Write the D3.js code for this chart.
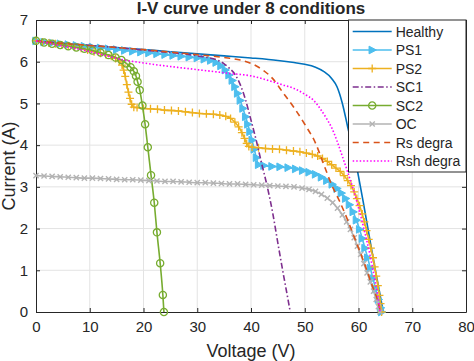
<!DOCTYPE html>
<html><head><meta charset="utf-8">
<script src="https://cdn.jsdelivr.net/npm/d3@7"></script>
<style>
body{margin:0;background:#fff}
svg{display:block}
text{font-family:"Liberation Sans",Arial,Helvetica,sans-serif;fill:#262626}
</style>
</head><body>
<svg id="chart" width="474" height="361"></svg>
<script>
// ---------- DATA (Voltage V, Current A) ----------
const healthy = [[0,6.5],[5,6.44],[10,6.39],[15,6.34],[20,6.29],[25,6.24],[30,6.19],[35,6.14],[40,6.09],[45,6.03],[48,5.98],[50,5.94],[52,5.87],[53.5,5.77],[55,5.6],[56,5.4],[57,5.0],[58,4.43],[58.5,4.15],[59.3,3.7],[60,3.25],[61,2.55],[62,1.82],[63,1.1],[64,0.42],[64.6,0]];
const ps1 = [[0,6.5],[1.5,6.47],[3,6.45],[4.5,6.43],[6,6.41],[7.5,6.39],[9,6.37],[10.5,6.35],[12,6.33],[13.5,6.31],[15,6.29],[16.5,6.27],[18,6.25],[19.5,6.23],[21,6.21],[22.5,6.19],[24,6.17],[25.5,6.15],[27,6.13],[28.5,6.11],[30,6.09],[31.3,6.06],[32.5,6.03],[33.5,5.98],[34.4,5.9],[35.2,5.8],[35.9,5.68],[36.5,5.55],[37,5.4],[37.5,5.24],[38,5.07],[38.5,4.88],[39,4.68],[39.4,4.5],[39.8,4.32],[40.2,4.12],[40.6,3.9],[41,3.7],[41.4,3.53],[42.4,3.51],[43.9,3.49],[45.4,3.48],[46.9,3.46],[48.3,3.43],[49.6,3.39],[50.8,3.35],[52,3.3],[53.1,3.23],[54.1,3.15],[55.1,3.06],[56,2.96],[56.8,2.85],[57.6,2.72],[58.3,2.57],[59,2.4],[59.6,2.2],[60.2,1.98],[60.7,1.76],[61.2,1.53],[61.7,1.3],[62.2,1.05],[62.7,0.8],[63.2,0.55],[63.7,0.3],[64.1,0.1],[64.3,0]];
const ps2 = [[0,6.5],[1.2,6.47],[2.4,6.45],[3.6,6.43],[4.8,6.4],[6,6.38],[7.2,6.35],[8.4,6.32],[9.6,6.28],[10.8,6.24],[12,6.2],[13,6.17],[14,6.13],[14.8,6.08],[15.5,6.02],[16,5.92],[16.3,5.8],[16.6,5.65],[16.9,5.45],[17.2,5.27],[17.5,5.12],[17.8,4.98],[18.2,4.91],[18.8,4.9],[20,4.88],[21.3,4.87],[22.6,4.86],[23.9,4.84],[25.2,4.83],[26.5,4.82],[27.8,4.8],[29.1,4.78],[30.4,4.76],[31.7,4.75],[33,4.74],[34.2,4.72],[35.3,4.69],[36.2,4.64],[37,4.55],[37.7,4.44],[38.3,4.3],[38.8,4.16],[39.2,4.04],[39.6,3.97],[40.2,3.95],[41.4,3.94],[42.7,3.92],[44,3.91],[45.3,3.9],[46.6,3.88],[47.9,3.86],[49.1,3.84],[50.3,3.81],[51.4,3.78],[52.4,3.74],[53.3,3.68],[54.2,3.61],[55,3.53],[55.8,3.45],[56.6,3.37],[57.3,3.27],[58,3.15],[58.6,3.03],[59.2,2.88],[59.7,2.72],[60.2,2.55],[60.7,2.35],[61.1,2.16],[61.5,1.95],[61.9,1.74],[62.3,1.53],[62.7,1.3],[63,1.08],[63.3,0.86],[63.6,0.63],[63.9,0.4],[64.1,0.2],[64.3,0]];
const sc1 = [[0,6.5],[5,6.44],[10,6.39],[15,6.34],[20,6.28],[25,6.22],[28,6.18],[30,6.14],[32,6.1],[33.5,6.05],[35,5.95],[36,5.84],[37,5.7],[38,5.45],[39,5.08],[40,4.6],[41,4.1],[42,3.55],[43,3.02],[44,2.4],[45,1.65],[46,0.92],[47,0.22],[47.3,0]];
const sc2 = [[0,6.5],[1.5,6.46],[3,6.43],[4.5,6.4],[6,6.37],[7.5,6.34],[9,6.31],[10.5,6.27],[12,6.22],[13.5,6.16],[14.8,6.1],[15.9,6.04],[16.8,5.96],[17.6,5.87],[18.2,5.77],[18.6,5.66],[18.9,5.52],[19.3,5.32],[19.8,4.95],[20.3,4.5],[20.8,3.95],[21.4,3.28],[22,2.62],[22.5,1.91],[23.1,1.17],[23.6,0.41],[23.8,0]];
const oc = [[0,3.27],[1.5,3.26],[3,3.25],[4.5,3.24],[6,3.23],[7.5,3.22],[9,3.21],[10.5,3.21],[12,3.2],[13.5,3.19],[15,3.18],[16.5,3.17],[18,3.17],[19.5,3.16],[21,3.15],[22.5,3.14],[24,3.13],[25.5,3.13],[27,3.12],[28.5,3.11],[30,3.1],[31.5,3.1],[33,3.09],[34.5,3.08],[36,3.07],[37.5,3.07],[39,3.06],[40.5,3.05],[42,3.04],[43.5,3.03],[45,3.02],[46.5,3.01],[48,3.0],[49.5,2.97],[50.8,2.94],[52,2.89],[53.1,2.82],[54.2,2.73],[55.2,2.62],[56.1,2.49],[57,2.33],[57.8,2.16],[58.5,1.98],[59.2,1.78],[59.8,1.58],[60.4,1.38],[61,1.16],[61.6,0.94],[62.2,0.72],[62.8,0.5],[63.3,0.3],[63.7,0.13],[64,0]];
const rsDegra = [[0,6.5],[5,6.44],[10,6.39],[15,6.34],[20,6.29],[25,6.23],[30,6.17],[35,6.1],[38,6.04],[40,5.96],[42,5.82],[44,5.6],[46,5.25],[48,4.9],[50,4.5],[52,4.05],[53.5,3.55],[55,3.05],[56.5,2.65],[58,2.2],[59.5,1.7],[61,1.2],[62.5,0.65],[63.5,0.3],[64.1,0]];
const rshDegra = [[0,6.5],[4,6.4],[8,6.3],[12,6.18],[16,6.05],[20,5.97],[24,5.9],[28,5.84],[32,5.78],[36,5.72],[40,5.66],[44,5.52],[46,5.44],[48,5.36],[50,5.22],[51.6,5.08],[53,4.85],[54,4.65],[55,4.42],[56,4.1],[57,3.73],[58,3.35],[59,2.95],[60,2.5],[61,2.0],[62,1.45],[63,0.8],[63.6,0.38],[64,0]];

const seriesNames = ["Healthy","PS1","PS2","SC1","SC2","OC","Rs degra","Rsh degra"];
const seriesColors = ["#0072BD","#4DBEEE","#EDB120","#7E2F8E","#77AC30","#B3B3B3","#D95319","#FF00FF"];
const xTicks = [0,10,20,30,40,50,60,70,80];
const yTicks = [0,1,2,3,4,5,6,7];
const titleText = "I-V curve under 8 conditions";
const xLabel = "Voltage (V)";
const yLabel = "Current (A)";

// ---------- STYLE ----------
const styles = [
  {dash:null, marker:null},
  {dash:null, marker:"tri"},
  {dash:null, marker:"plus"},
  {dash:"6,2.5,1.5,2.5", marker:null},
  {dash:null, marker:"circle"},
  {dash:null, marker:"x"},
  {dash:"6,4.5", marker:null},
  {dash:"1.5,2", marker:null}
];
const allData = [healthy, ps1, ps2, sc1, sc2, oc, rsDegra, rshDegra];

const svg = d3.select("#chart");
const L = 36, R = 466, T = 20, B = 312;
const x = d3.scaleLinear().domain([0,80]).range([L,R]);
const y = d3.scaleLinear().domain([0,7]).range([B,T]);

// grid
const g = svg.append("g");
g.selectAll(".gx").data(xTicks.slice(1,-1)).enter().append("line")
  .attr("x1",d=>x(d)).attr("x2",d=>x(d)).attr("y1",T).attr("y2",B)
  .attr("stroke","#e3e3e3").attr("stroke-width",1);
g.selectAll(".gy").data(yTicks.slice(1,-1)).enter().append("line")
  .attr("y1",d=>y(d)).attr("y2",d=>y(d)).attr("x1",L).attr("x2",R)
  .attr("stroke","#e3e3e3").attr("stroke-width",1);

// axes
const fmt = d3.format("d");
const xAxis = d3.axisBottom(x).tickValues(xTicks).tickFormat(fmt).tickSizeInner(-4).tickSizeOuter(0).tickPadding(9);
const yAxis = d3.axisLeft(y).tickValues(yTicks).tickFormat(fmt).tickSizeInner(-4).tickSizeOuter(0).tickPadding(8);
const gx = svg.append("g").attr("transform",`translate(0,${B})`).call(xAxis);
const gy = svg.append("g").attr("transform",`translate(${L},0)`).call(yAxis);
[gx,gy].forEach(a=>{
  a.select(".domain").attr("stroke","#262626");
  a.selectAll(".tick line").attr("stroke","#262626");
  a.selectAll(".tick text").attr("font-size",15).attr("fill","#262626")
   .style("font-family",'"Liberation Sans",Arial,sans-serif');
});
// top/right ticks & box
const gt = svg.append("g").attr("transform",`translate(0,${T})`).call(d3.axisTop(x).tickValues(xTicks).tickSizeInner(-4).tickSizeOuter(0).tickFormat(""));
const gr = svg.append("g").attr("transform",`translate(${R},0)`).call(d3.axisRight(y).tickValues(yTicks).tickSizeInner(-4).tickSizeOuter(0).tickFormat(""));
[gt,gr].forEach(a=>{a.select(".domain").attr("stroke","#262626");a.selectAll(".tick line").attr("stroke","#262626");});

// markers
function markerPath(type, s){
  if(type==="tri") return `M${-s*0.45},${-s*0.55}L${s*0.6},0L${-s*0.45},${s*0.55}Z`;
  if(type==="plus") return `M${-s},0H${s}M0,${-s}V${s}`;
  if(type==="x") return `M${-s},${-s}L${s},${s}M${-s},${s}L${s},${-s}`;
  if(type==="circle") return d3.arc()({innerRadius:0,outerRadius:s,startAngle:0,endAngle:2*Math.PI});
  return "";
}
function drawMarkers(sel, type, color){
  if(type==="tri") sel.attr("d",markerPath("tri",7)).attr("fill",color).attr("stroke",color).attr("stroke-width",1);
  else if(type==="plus") sel.attr("d",markerPath("plus",4)).attr("fill","none").attr("stroke",color).attr("stroke-width",1.3);
  else if(type==="x") sel.attr("d",markerPath("x",2.6)).attr("fill","none").attr("stroke",color).attr("stroke-width",1.4);
  else if(type==="circle") sel.attr("d",markerPath("circle",3.6)).attr("fill","none").attr("stroke",color).attr("stroke-width",1.3);
}

const line = d3.line().x(d=>x(d[0])).y(d=>y(d[1])).curve(d3.curveMonotoneX);
const plot = svg.append("g");
allData.forEach((data,i)=>{
  const st = styles[i], col = seriesColors[i];
  plot.append("path").datum(data).attr("d",line).attr("fill","none")
    .attr("stroke",col).attr("stroke-width",1.6)
    .attr("stroke-dasharray",st.dash);
  if(st.marker){
    plot.append("g").selectAll("path").data(data).enter().append("path")
      .attr("transform",d=>`translate(${x(d[0])},${y(d[1])})`)
      .call(s=>drawMarkers(s,st.marker,col));
  }
});

// legend
const lg = svg.append("g");
const lgX = 348.5, lgY = 20, lgW = 117.5, lgH = 152;
lg.append("rect").attr("x",lgX).attr("y",lgY).attr("width",lgW).attr("height",lgH)
  .attr("fill","#fff").attr("stroke","#262626").attr("stroke-width",1);
seriesNames.forEach((name,i)=>{
  const yy = 31.5 + i*18.5;
  const st = styles[i], col = seriesColors[i];
  lg.append("line").attr("x1",352.7).attr("x2",391.7).attr("y1",yy).attr("y2",yy)
    .attr("stroke",col).attr("stroke-width",1.6).attr("stroke-dasharray",st.dash);
  if(st.marker){
    lg.append("path").attr("transform",`translate(372.2,${yy})`).call(s=>drawMarkers(s,st.marker,col));
  }
  lg.append("text").attr("x",395.7).attr("y",yy).attr("dy","0.36em")
    .attr("font-size",14).text(name);
});

// title & labels
svg.append("text").attr("x",251).attr("y",14).attr("text-anchor","middle")
  .attr("font-size",17).attr("font-weight","bold").attr("fill","#000").text(titleText);
svg.append("text").attr("x",251).attr("y",357).attr("text-anchor","middle")
  .attr("font-size",18).text(xLabel);
svg.append("text").attr("transform","translate(15,166) rotate(-90)").attr("text-anchor","middle")
  .attr("font-size",18).text(yLabel);
</script>
</body></html>
